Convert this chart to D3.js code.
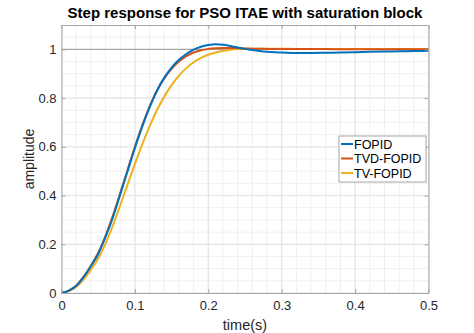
<!DOCTYPE html>
<html>
  <head>
    <script src="https://cdn.jsdelivr.net/npm/d3@7"></script>
    <style>
      body { margin: 0; background: #fff; font-family: Arial, "Liberation Sans", sans-serif; }
    </style>
  </head>
  <body>
    <div id="container"></div>
    <script>
      // time samples (s)
      const time = [0, 0.01, 0.02, 0.03, 0.04, 0.05, 0.06, 0.07, 0.08, 0.09, 0.10, 0.11, 0.12, 0.13, 0.14, 0.15, 0.16, 0.17, 0.18, 0.19, 0.20, 0.21, 0.22, 0.23, 0.24, 0.25, 0.26, 0.27, 0.28, 0.29, 0.30, 0.32, 0.34, 0.36, 0.38, 0.40, 0.42, 0.44, 0.46, 0.48, 0.50];
      const fopid = [0, 0.01, 0.03, 0.065, 0.11, 0.16, 0.23, 0.31, 0.405, 0.5, 0.595, 0.683, 0.762, 0.83, 0.884, 0.925, 0.957, 0.981, 0.999, 1.011, 1.018, 1.021, 1.019, 1.014, 1.008, 1.002, 0.997, 0.993, 0.99, 0.988, 0.987, 0.985, 0.985, 0.986, 0.987, 0.988, 0.99, 0.991, 0.992, 0.993, 0.994];
      const tvdFopid = [0, 0.01, 0.03, 0.066, 0.112, 0.165, 0.235, 0.318, 0.41, 0.505, 0.6, 0.688, 0.765, 0.83, 0.881, 0.92, 0.95, 0.972, 0.987, 0.996, 1.002, 1.005, 1.006, 1.006, 1.005, 1.004, 1.003, 1.003, 1.002, 1.002, 1.002, 1.001, 1.001, 1.001, 1.0, 1.0, 1.0, 1.0, 1.0, 1.0, 1.0];
      const tvFopid = [0, 0.008, 0.025, 0.055, 0.095, 0.142, 0.203, 0.277, 0.36, 0.445, 0.53, 0.61, 0.684, 0.75, 0.806, 0.853, 0.892, 0.923, 0.947, 0.965, 0.978, 0.987, 0.994, 0.998, 1.001, 1.002, 1.003, 1.003, 1.003, 1.003, 1.003, 1.002, 1.002, 1.002, 1.002, 1.001, 1.001, 1.001, 1.001, 1.001, 1.001];
      const seriesNames = ["FOPID", "TVD-FOPID", "TV-FOPID"];
      const xTicks = [0, 0.1, 0.2, 0.3, 0.4, 0.5];
      const yTicks = [0, 0.2, 0.4, 0.6, 0.8, 1];

      const colors = ["#0072BD", "#D95319", "#EDB120"];
      const allSeries = [fopid, tvdFopid, tvFopid];

      const w = 474;
      const h = 333;
      const m = { left: 61.5, right: 45.5, top: 25, bottom: 40 };

      const svg = d3.select("#container").append("svg")
        .attr("width", w).attr("height", h);

      const x = d3.scaleLinear().domain([0, 0.5]).range([m.left, w - m.right]);
      const y = d3.scaleLinear().domain([0, 1.1]).range([h - m.bottom, m.top]);

      // minor grid
      const g = svg.append("g");
      g.selectAll(".xminor").data(d3.range(0.02, 0.5, 0.02)).enter().append("line")
        .attr("x1", d => x(d)).attr("x2", d => x(d))
        .attr("y1", y(0)).attr("y2", y(1.1))
        .attr("stroke", "#f0f0f0").attr("stroke-width", 1);
      g.selectAll(".yminor").data(d3.range(0.05, 1.1, 0.05)).enter().append("line")
        .attr("x1", x(0)).attr("x2", x(0.5))
        .attr("y1", d => y(d)).attr("y2", d => y(d))
        .attr("stroke", "#f0f0f0").attr("stroke-width", 1);
      // major grid
      g.selectAll(".xmajor").data(xTicks).enter().append("line")
        .attr("x1", d => x(d)).attr("x2", d => x(d))
        .attr("y1", y(0)).attr("y2", y(1.1))
        .attr("stroke", "#e3e3e3").attr("stroke-width", 1);
      g.selectAll(".ymajor").data(yTicks).enter().append("line")
        .attr("x1", x(0)).attr("x2", x(0.5))
        .attr("y1", d => y(d)).attr("y2", d => y(d))
        .attr("stroke", "#e3e3e3").attr("stroke-width", 1);

      // reference line at 1
      svg.append("line")
        .attr("x1", x(0)).attr("x2", x(0.5))
        .attr("y1", y(1)).attr("y2", y(1))
        .attr("stroke", "#999").attr("stroke-width", 1);

      const line = d3.line().curve(d3.curveMonotoneX);
      // draw in reverse so blue is on top
      [2, 1, 0].forEach(i => {
        svg.append("path")
          .attr("d", line(time.map((t, k) => [x(t), y(allSeries[i][k])])))
          .attr("fill", "none")
          .attr("stroke", colors[i])
          .attr("stroke-width", 2);
      });

      // axes
      const xAxis = svg.append("g").attr("transform", `translate(0,${y(0)})`)
        .call(d3.axisBottom(x).tickValues(xTicks).tickSizeInner(-4).tickSizeOuter(0).tickPadding(8).tickFormat(d3.format("")));
      const yAxis = svg.append("g").attr("transform", `translate(${x(0)},0)`)
        .call(d3.axisLeft(y).tickValues(yTicks).tickSizeInner(-4).tickSizeOuter(0).tickPadding(5).tickFormat(d3.format("")));
      const xTop = svg.append("g").attr("transform", `translate(0,${y(1.1)})`)
        .call(d3.axisTop(x).tickValues(xTicks).tickSizeInner(-4).tickSizeOuter(0).tickFormat(""));
      const yRight = svg.append("g").attr("transform", `translate(${x(0.5)},0)`)
        .call(d3.axisRight(y).tickValues(yTicks).tickSizeInner(-4).tickSizeOuter(0).tickFormat(""));
      [xAxis, yAxis, xTop, yRight].forEach(a => {
        a.select(".domain").attr("stroke", "#a6a6a6");
        a.selectAll(".tick line").attr("stroke", "#a6a6a6");
        a.selectAll("text").attr("fill", "#262626").style("font-size", "13px")
          .style("font-family", "Arial, 'Liberation Sans', sans-serif");
      });

      // title and labels
      svg.append("text")
        .attr("x", (x(0) + x(0.5)) / 2).attr("y", 18)
        .attr("text-anchor", "middle")
        .style("font-size", "15px").style("font-weight", "bold")
        .attr("fill", "#000")
        .text("Step response for PSO ITAE with saturation block");
      svg.append("text")
        .attr("x", (x(0) + x(0.5)) / 2).attr("y", 330)
        .attr("text-anchor", "middle")
        .style("font-size", "14.5px").attr("fill", "#262626")
        .text("time(s)");
      svg.append("text")
        .attr("transform", `translate(34,${(y(0) + y(1.1)) / 2}) rotate(-90)`)
        .attr("text-anchor", "middle")
        .style("font-size", "14px").attr("fill", "#262626")
        .text("amplitude");

      // legend
      const lg = svg.append("g").attr("transform", "translate(339,136)");
      lg.append("rect").attr("width", 87).attr("height", 46)
        .attr("fill", "#fff").attr("stroke", "#a6a6a6").attr("stroke-width", 1);
      seriesNames.forEach((name, i) => {
        const yy = 8 + i * 14.5;
        lg.append("line").attr("x1", 2).attr("x2", 14).attr("y1", yy).attr("y2", yy)
          .attr("stroke", colors[i]).attr("stroke-width", 2);
        lg.append("text").attr("x", 15).attr("y", yy + 4.5)
          .style("font-size", "12.5px").attr("fill", "#000").text(name);
      });
    </script>
  </body>
</html>
